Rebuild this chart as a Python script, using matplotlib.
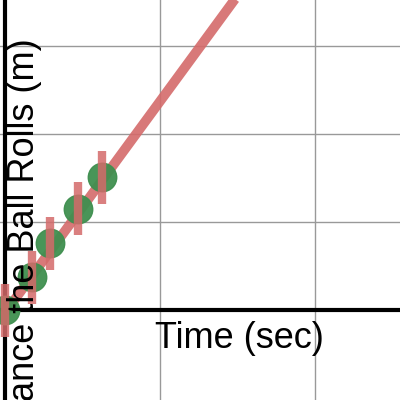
import matplotlib
matplotlib.use("Agg")
import matplotlib.pyplot as plt
import numpy as np

time_s = [0.0, 0.87, 1.45, 2.35, 3.13]
dist_m = [0.0, 0.375, 0.76, 1.15, 1.51]
err_m = [0.3, 0.3, 0.3, 0.3, 0.3]
fit_slope = 0.48
fit_icpt = -0.03

fig = plt.figure(figsize=(4, 4), dpi=100)
ax = fig.add_axes([0, 0, 1, 1])
ax.set_xlim(-0.161, 12.74)
ax.set_ylim(-1.02, 3.52)
for x in [5, 10]:
    ax.axvline(x, color="#999999", lw=1, zorder=0)
for y in [1, 2, 3]:
    ax.axhline(y, color="#999999", lw=1, zorder=0)
ax.axvline(0, color="black", lw=3, zorder=1)
ax.axhline(0, color="black", lw=3, zorder=1)
xs = np.array([-1, 13])
ax.plot(xs, fit_slope * xs + fit_icpt, color="#d46a6a", lw=7, alpha=0.9, solid_capstyle="butt", zorder=2)
ax.scatter(time_s, dist_m, s=420, color="#3f8f4f", zorder=3, alpha=0.95)
ax.errorbar(time_s, dist_m, yerr=err_m, fmt="none", ecolor="#d46a6a", elinewidth=6, alpha=0.85, zorder=4)
ax.set_xticks([]); ax.set_yticks([])
for s in ax.spines.values():
    s.set_visible(False)
ax.text(4.85, -0.32, "Time (sec)", fontsize=26, family="Liberation Sans", ha="left", va="center", color="black")
fig.text(25/400, 1 - 38/400, "Distance the Ball Rolls (m)", rotation=90, fontsize=26,
         family="Liberation Sans", ha="center", va="top")
fig.savefig("out.png", dpi=100)
